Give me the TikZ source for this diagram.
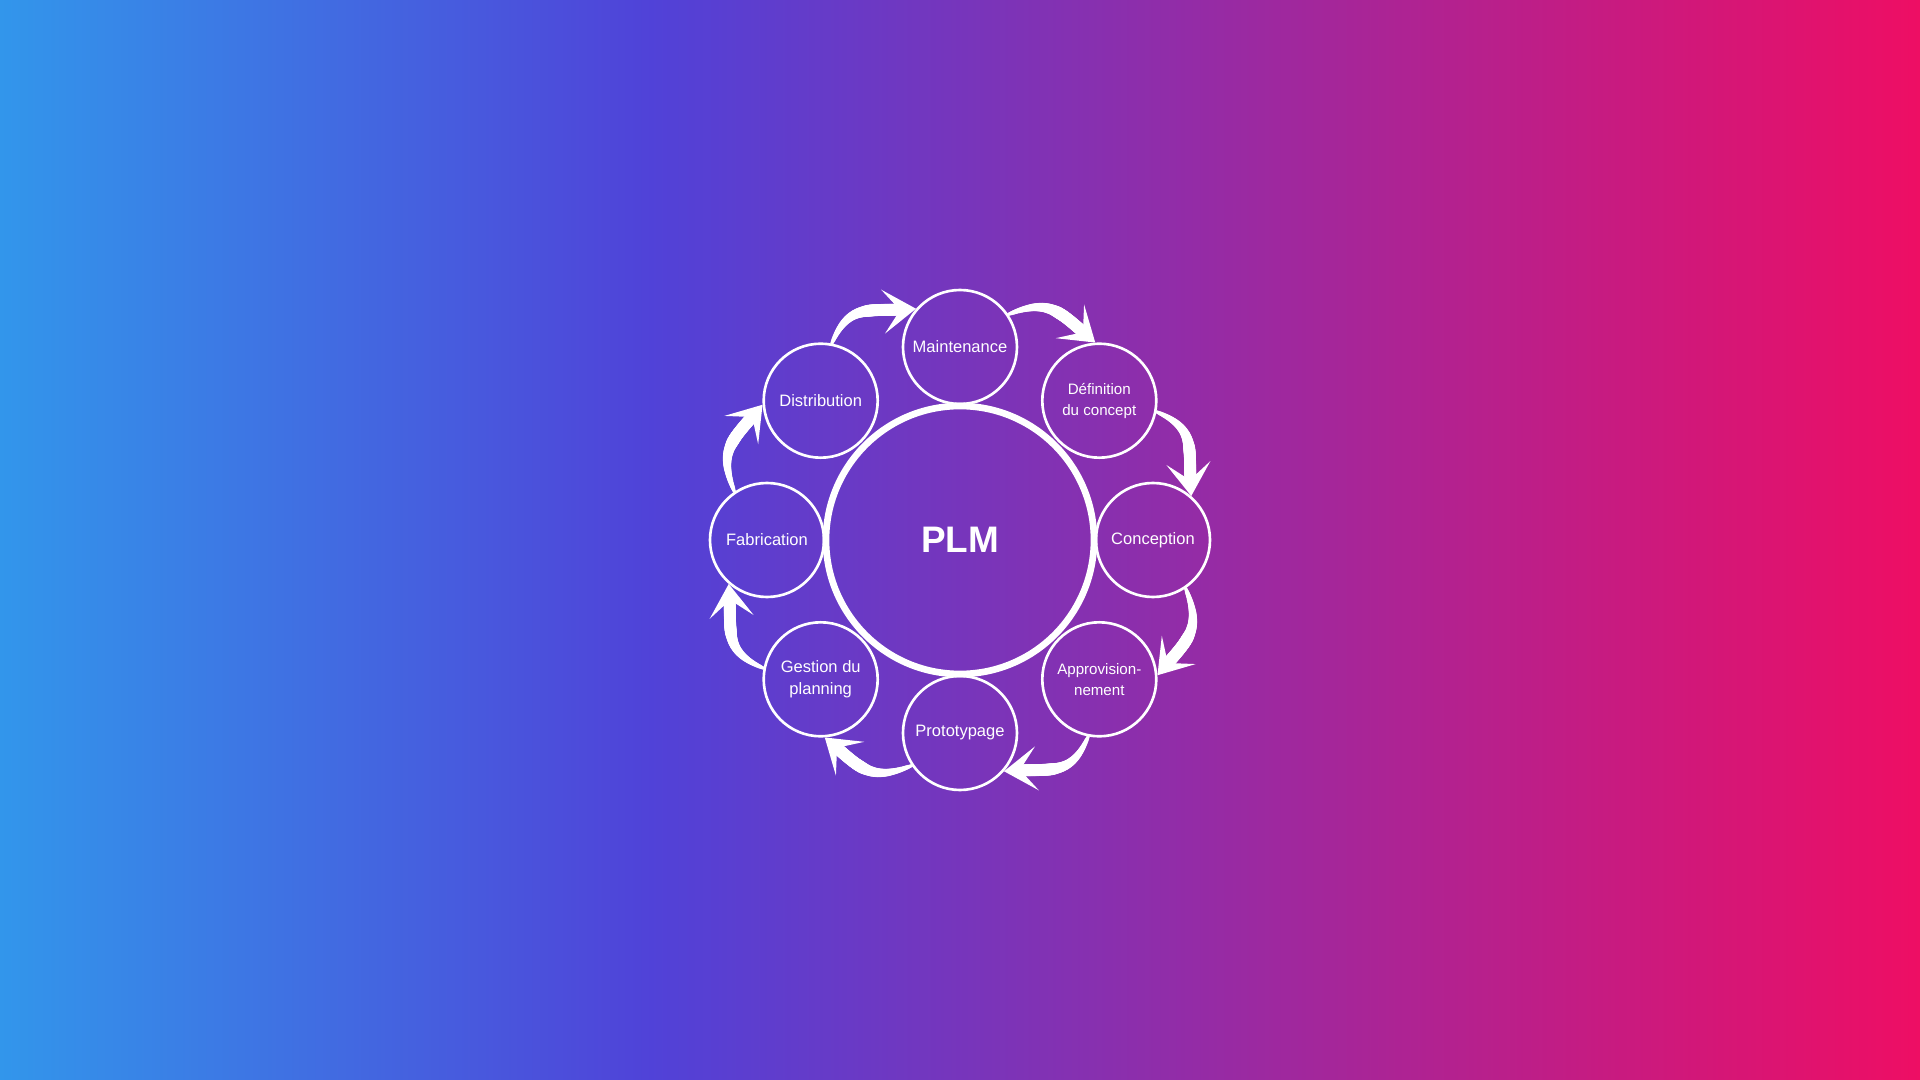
\documentclass[tikz,border=0pt]{standalone}
\usepackage{fontspec}
\setmainfont{Liberation Sans}
\usetikzlibrary{arrows.meta,decorations.markings}

\definecolor{bgleft}{RGB}{50,150,235}
\definecolor{bgmid}{RGB}{80,66,216}
\definecolor{bgright}{RGB}{238,14,100}

\tikzset{
    phase/.style={circle, draw=white, line width=0.75pt, minimum size=1.14cm, inner sep=0pt,
                  text=white, align=center, font=\fontsize{4.7}{6.5}\selectfont},
    small/.style={font=\fontsize{4.3}{6}\selectfont},
    hub/.style={circle, draw=white, line width=1.9pt, minimum size=2.68cm, inner sep=0pt,
                text=white, font=\fontsize{10.5}{12}\selectfont\bfseries},
    swoosh/.style={white, line width=0.6pt, -{Stealth[length=3.3mm, width=4.4mm, inset=1.7mm]},
        postaction={decorate},
        decoration={markings, mark=between positions 0 and -1.9mm step 0.25pt with {
            \pgfmathsetmacro{\rr}{min(1.7, 0.5+0.08*\pgfkeysvalueof{/pgf/decoration/mark info/distance from start})}
            \fill[white] (0,0) circle (\rr pt);}}},
}

\begin{document}
\begin{tikzpicture}

    % background
    \useasboundingbox (-9.6,-5.4) rectangle (9.6,5.4);
    \shade[left color=bgleft, right color=bgmid] (-9.6,-5.4) rectangle (-3.08,5.4);
    \shade[left color=bgmid, right color=bgright] (-3.1,-5.4) rectangle (9.6,5.4);

    \node (plm) [hub] at (0,0) {PLM};

    \node (maint) [phase]       at (90:1.93)   {Maintenance};
    \node (defin) [phase,small] at (45:1.97)   {Définition\\du concept};
    \node (conc)  [phase]       at (0:1.93)    {Conception};
    \node (appro) [phase,small] at (-45:1.97)  {Approvision-\\nement};
    \node (proto) [phase]       at (-90:1.93)  {Prototypage};
    \node (gest)  [phase]       at (-135:1.97) {Gestion du\\planning};
    \node (fabr)  [phase]       at (180:1.93)  {Fabrication};
    \node (distr) [phase]       at (135:1.97)  {Distribution};

    % curved arrows around the ring
    \foreach \src/\tgt/\a in {maint/defin/90, defin/conc/45, conc/appro/0, appro/proto/-45,
                              proto/gest/-90, gest/fabr/-135, fabr/distr/180, distr/maint/135} {
        \pgfmathtruncatemacro{\sanc}{\a-56}
        \pgfmathtruncatemacro{\tanc}{\a+4}
        \pgfmathtruncatemacro{\aout}{\a-68}
        \pgfmathtruncatemacro{\ain}{\a+50}
        \draw[swoosh] (\src.\sanc) to[out=\aout, in=\ain, looseness=1.3] (\tgt.\tanc);
    }

\end{tikzpicture}
\end{document}
